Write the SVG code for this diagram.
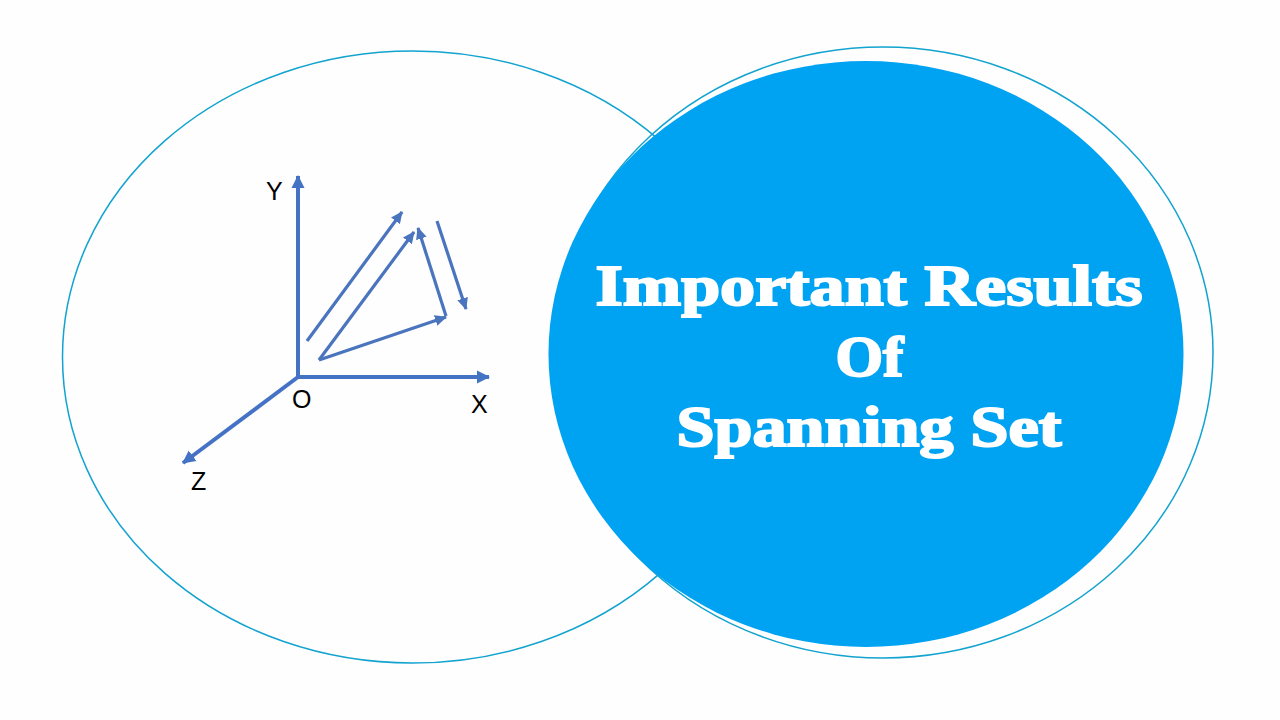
<svg xmlns="http://www.w3.org/2000/svg" width="1280" height="720" viewBox="0 0 1280 720">
<style>
.ring{fill:none;stroke:#12a3cf;stroke-width:1.5}
.axis{stroke:#4472c4;stroke-width:4;fill:none}
.vec{stroke:#4a74bd;stroke-width:3.2;fill:none}
.lab{font-family:"Liberation Sans",Arial,sans-serif;font-size:25px;fill:#000}
.title{font-family:"Liberation Serif","Times New Roman",serif;font-weight:700;font-size:57px;fill:#fff;stroke:#fff;stroke-width:2;text-anchor:middle}
</style>
<defs>
<marker id="a" markerUnits="userSpaceOnUse" markerWidth="14" markerHeight="14" refX="12" refY="7" orient="auto"><path d="M0 0.500L13 7L0 13.500Z" fill="#4472c4"/></marker>
<marker id="v" markerUnits="userSpaceOnUse" markerWidth="13" markerHeight="12" refX="11" refY="6" orient="auto"><path d="M0 0.500L12 6L0 11.500Z" fill="#4a74bd"/></marker>
</defs>
<rect width="1280" height="720" fill="#fefefe"/>
<g id="left-circle"><ellipse class="ring" cx="412.500" cy="357" rx="350" ry="306"/></g>
<g id="right-circle">
<ellipse class="ring" cx="883" cy="352.500" rx="330" ry="305.500"/>
<ellipse cx="866" cy="354" rx="317.500" ry="293" fill="#00a2f2"/>
</g>
<g id="connectors">
<path class="axis" d="M298 377V176" marker-end="url(#a)"/>
<path class="axis" d="M297 377H489" marker-end="url(#a)"/>
<path class="axis" d="M298 377L183 463" marker-end="url(#a)"/>
<path class="vec" d="M307 341L402 212" marker-end="url(#v)"/>
<path class="vec" d="M319 360L414 232" marker-end="url(#v)"/>
<path class="vec" d="M319 360L446 317" marker-end="url(#v)"/>
<path class="vec" d="M446 316L418 228" marker-end="url(#v)"/>
<path class="vec" d="M437 221L466 309" marker-end="url(#v)"/>
</g>
<g id="axis-labels">
<text class="lab" x="266" y="200">Y</text>
<text class="lab" x="292" y="408">O</text>
<text class="lab" x="471" y="413">X</text>
<text class="lab" x="191" y="490">Z</text>
</g>
<g id="title">
<text class="title" x="869" y="305" textLength="547" lengthAdjust="spacingAndGlyphs">Important Results</text>
<text class="title" x="869.500" y="376" textLength="68" lengthAdjust="spacingAndGlyphs">Of</text>
<text class="title" x="869" y="446" textLength="385" lengthAdjust="spacingAndGlyphs">Spanning Set</text>
</g>
</svg>
